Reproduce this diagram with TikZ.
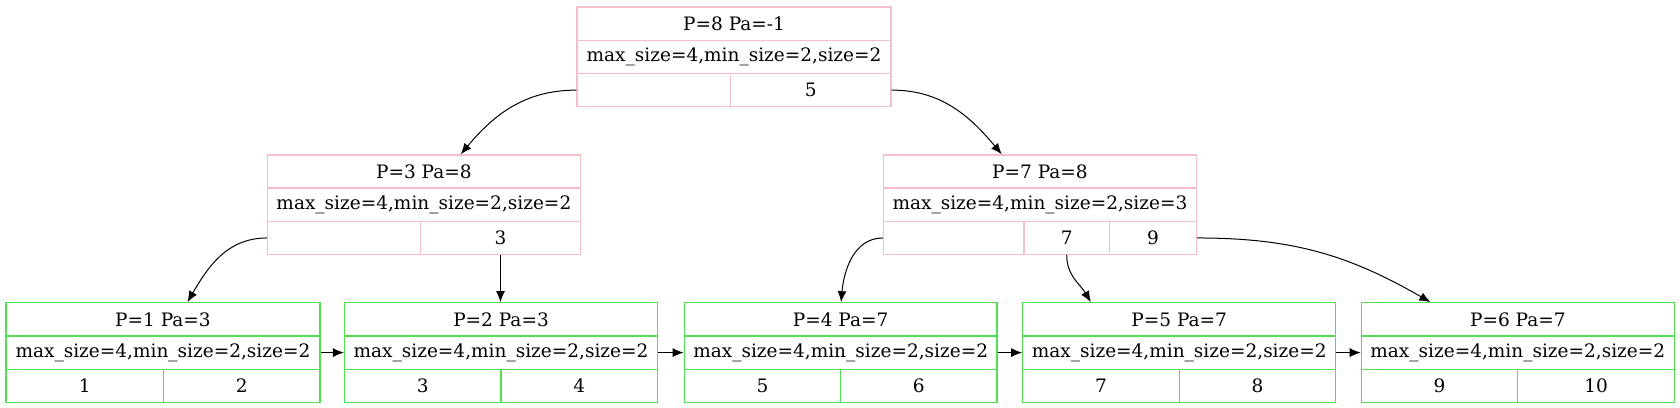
\documentclass[tikz,border=0pt]{standalone}
\usepackage{fontspec}
\setmainfont{DejaVu Serif}
\usetikzlibrary{arrows.meta}
\definecolor{pk}{RGB}{245,190,200}
\definecolor{gr}{RGB}{80,225,80}
\newcommand{\mkcell}[6]{% name, x1, x2, ytop, color, text
  \pgfmathsetmacro{\w}{(#3-#2)*1.0714}%
  \node[draw=#5, line width=1.3pt, minimum width=\w pt, minimum height=33.2pt, inner sep=0pt, anchor=north west, font=\fontsize{18.5}{20}\selectfont] (#1) at (#2,#4) {#6};}
\newcommand{\boxtwo}[9]{% name x1 xs x2 y title left right color
  \mkcell{#1t}{#2}{#4}{#5}{#9}{#6}%
  \mkcell{#1s}{#2}{#4}{#5+31}{#9}{max\_size=4,min\_size=2,size=2}%
  \mkcell{#1a}{#2}{#3}{#5+62}{#9}{#7}%
  \mkcell{#1b}{#3}{#4}{#5+62}{#9}{#8}}
\tikzset{arr/.style={-{Latex[length=11pt,width=9pt]}, line width=1pt}}
\begin{document}
\begin{tikzpicture}[x=1.0714pt,y=-1.0714pt]
\boxtwo{r}{538}{681}{831}{6}{P=8 Pa=-1}{}{5}{pk}
\boxtwo{p}{249}{392}{541}{144}{P=3 Pa=8}{}{3}{pk}
\mkcell{qt}{824}{1116}{144}{pk}{P=7 Pa=8}
\mkcell{qs}{824}{1116}{175}{pk}{max\_size=4,min\_size=2,size=3}
\mkcell{qa}{824}{955}{206}{pk}{}
\mkcell{qb}{955}{1035}{206}{pk}{7}
\mkcell{qc}{1035}{1116}{206}{pk}{9}
\boxtwo{la}{5}{152}{298}{282}{P=1 Pa=3}{1}{2}{gr}
\boxtwo{lb}{321}{467}{613}{282}{P=2 Pa=3}{3}{4}{gr}
\boxtwo{lc}{638}{784}{930}{282}{P=4 Pa=7}{5}{6}{gr}
\boxtwo{ld}{954}{1100}{1246}{282}{P=5 Pa=7}{7}{8}{gr}
\boxtwo{le}{1270}{1416}{1562}{282}{P=6 Pa=7}{9}{10}{gr}
\coordinate (pin) at (430,144);
\coordinate (qin) at (935,144);
\coordinate (ain) at (175,282);
\coordinate (cin) at (785,282);
\coordinate (din) at (1018,282);
\coordinate (ein) at (1335,282);
\draw[arr] (ra.west) to[out=180,in=50] (pin);
\draw[arr] (rb.east) to[out=0,in=130] (qin);
\draw[arr] (pa.west) to[out=180,in=60] (ain);
\draw[arr] (pb.south) -- (lbt.north -| pb.south);
\draw[arr] (qa.west) to[out=180,in=85] (cin);
\draw[arr] (qb.south) to[out=-90,in=120] (din);
\draw[arr] (qc.east) to[out=0,in=150] (ein);
\draw[arr] (las.east) -- (lbs.west);
\draw[arr] (lbs.east) -- (lcs.west);
\draw[arr] (lcs.east) -- (lds.west);
\draw[arr] (lds.east) -- (les.west);
\pgfresetboundingbox
\useasboundingbox (0,0) rectangle (1568,380);
\end{tikzpicture}
\end{document}
